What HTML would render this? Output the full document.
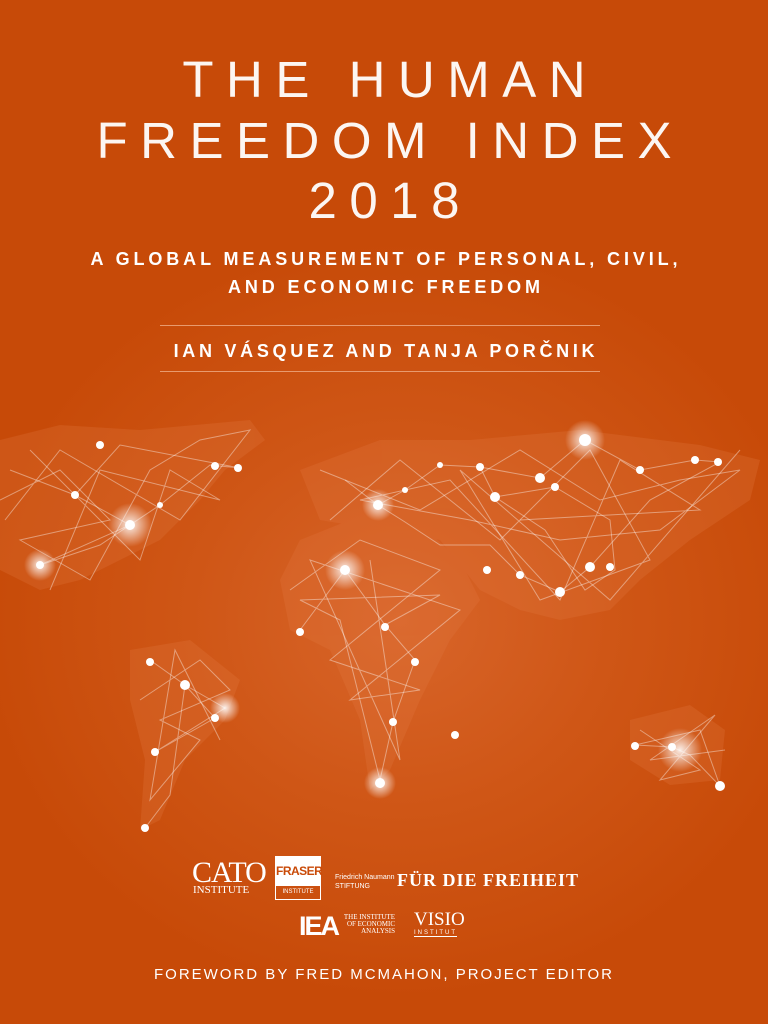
<!DOCTYPE html>
<html><head><meta charset="utf-8"><style>
body{margin:0;width:768px;height:1024px;overflow:hidden;background:#c94a08;font-family:"Liberation Sans",sans-serif;color:#fff;position:relative}
.bg{position:absolute;inset:0;background:radial-gradient(ellipse 420px 380px at 400px 620px,#d8652a 0%,#cf5616 50%,#c74a08 100%)}
.t{position:absolute;left:0;width:768px;text-align:center}
.h{font-size:51px;letter-spacing:12.5px;text-indent:12.5px;font-weight:300;line-height:60px;color:rgba(255,255,255,.95)}
.s{font-size:18px;font-weight:bold;letter-spacing:3.9px;text-indent:3.9px}
.line{position:absolute;left:160px;width:440px;height:1px;background:#e89a6e}
</style></head><body>
<div class="bg"></div>
<div class="t h" style="top:50px">THE HUMAN</div>
<div class="t h" style="top:111px">FREEDOM INDEX</div>
<div class="t h" style="top:171px">2018</div>
<div class="t s" style="top:249px">A GLOBAL MEASUREMENT OF PERSONAL, CIVIL,</div>
<div class="t s" style="top:277px">AND ECONOMIC FREEDOM</div>
<div class="line" style="top:325px"></div>
<div class="t s" style="top:341px;font-size:18px;letter-spacing:3.7px">IAN VÁSQUEZ AND TANJA PORČNIK</div>
<div class="line" style="top:371px"></div>
<svg style="position:absolute;left:0;top:0" width="768" height="1024">
<defs><radialGradient id="g"><stop offset="0" stop-color="#fff" stop-opacity=".9"/><stop offset="1" stop-color="#fff" stop-opacity="0"/></radialGradient></defs>
<g fill="#e47a43" opacity=".25">
<path d="M0 440 L60 425 140 430 250 420 265 440 225 470 200 500 160 540 120 560 80 580 40 590 0 570Z"/>
<path d="M130 650 L190 640 240 680 225 720 185 760 160 820 140 830 145 760 130 700Z"/>
<path d="M300 540 L350 520 420 525 460 560 480 600 450 640 420 700 390 770 370 790 360 720 330 650 290 630 280 580Z"/>
<path d="M300 470 L380 440 470 440 580 430 700 445 760 460 750 500 690 540 640 580 610 610 560 620 520 610 480 590 440 540 380 530 320 520Z"/>
<path d="M630 720 L690 705 725 730 720 780 670 785 630 760Z"/>
</g>
<g stroke="#fff" stroke-opacity=".4" stroke-width="1" fill="none">
<polyline points="10,470 75,495 130,525 40,565 100,545 160,505 210,465 240,468 120,445 75,495"/>
<polyline points="0,500 60,470 110,520 20,540 90,580 150,470 200,440 250,430 180,520 60,450 5,520"/>
<polyline points="30,450 140,560 170,470 220,500 100,470 50,590"/>
<polyline points="150,660 185,685 215,718 155,752 225,708 185,685 170,795 145,828"/>
<polyline points="140,700 200,660 230,690 160,720 200,740 150,800 175,650 220,740"/>
<polyline points="300,630 345,570 385,625 415,660 393,722 380,780 340,620 300,600 440,595 385,625"/>
<polyline points="290,590 360,540 440,570 330,660 420,690 350,700 460,610 310,560 400,760 370,560"/>
<polyline points="345,480 378,505 405,490 440,465 480,467 540,478 585,440 640,470 695,460 720,462 650,500 590,567 560,592 520,575 490,545 440,545 405,522 378,505"/>
<polyline points="480,467 495,497 555,487 610,520 615,570 585,590 545,530 495,497"/>
<polyline points="320,470 420,510 520,450 600,500 680,480 740,470 660,530 560,540 470,520 360,500 450,480 560,600 620,460 700,510 520,520"/>
<polyline points="330,520 400,460 500,540 590,450 650,560 540,600 460,470 610,600 740,450"/>
<polyline points="635,745 672,747 690,755 720,786 700,730 635,745"/>
<polyline points="640,730 700,770 660,780 715,715 650,760 725,750"/>
</g>
<g fill="#fff">
<circle cx="75" cy="495" r="4"/><circle cx="130" cy="525" r="5"/><circle cx="40" cy="565" r="4"/><circle cx="160" cy="505" r="3"/><circle cx="215" cy="466" r="4"/><circle cx="238" cy="468" r="4"/><circle cx="100" cy="445" r="4"/>
<circle cx="150" cy="662" r="4"/><circle cx="185" cy="685" r="5"/><circle cx="215" cy="718" r="4"/><circle cx="155" cy="752" r="4"/><circle cx="145" cy="828" r="4"/>
<circle cx="345" cy="570" r="5"/><circle cx="385" cy="627" r="4"/><circle cx="415" cy="662" r="4"/><circle cx="393" cy="722" r="4"/><circle cx="380" cy="783" r="5"/><circle cx="300" cy="632" r="4"/><circle cx="455" cy="735" r="4"/>
<circle cx="378" cy="505" r="5"/><circle cx="405" cy="490" r="3"/><circle cx="440" cy="465" r="3"/><circle cx="480" cy="467" r="4"/><circle cx="540" cy="478" r="5"/><circle cx="585" cy="440" r="6"/><circle cx="640" cy="470" r="4"/><circle cx="695" cy="460" r="4"/><circle cx="718" cy="462" r="4"/>
<circle cx="495" cy="497" r="5"/><circle cx="555" cy="487" r="4"/><circle cx="610" cy="567" r="4"/><circle cx="590" cy="567" r="5"/><circle cx="560" cy="592" r="5"/><circle cx="520" cy="575" r="4"/><circle cx="487" cy="570" r="4"/>
<circle cx="635" cy="746" r="4"/><circle cx="672" cy="747" r="4"/><circle cx="720" cy="786" r="5"/>
</g>
<g fill="url(#g)"><circle cx="130" cy="525" r="22"/><circle cx="345" cy="570" r="20"/><circle cx="585" cy="440" r="20"/><circle cx="378" cy="505" r="16"/><circle cx="680" cy="750" r="22"/><circle cx="40" cy="565" r="16"/><circle cx="380" cy="783" r="16"/><circle cx="225" cy="708" r="15"/></g>
</svg>
<div style="position:absolute;left:192px;top:860px;font-family:'Liberation Serif',serif;font-size:30px;line-height:26px;letter-spacing:-1px">CATO</div>
<div style="position:absolute;left:193px;top:884px;font-family:'Liberation Serif',serif;font-size:11px">INSTITUTE</div>
<div style="position:absolute;left:275px;top:856px;width:44px;height:42px;border:1px solid #fff">
<div style="background:#fff;color:#c94a08;font-size:12px;font-weight:bold;height:29px;line-height:29px;text-align:center;letter-spacing:-.5px">FRASER</div>
<div style="font-size:6px;text-align:center;line-height:12px">INSTITUTE</div></div>
<div style="position:absolute;left:335px;top:873px;font-size:7px;line-height:9px">Friedrich Naumann<br>STIFTUNG</div>
<div style="position:absolute;left:397px;top:870px;font-family:'Liberation Serif',serif;font-size:18px;font-weight:bold;letter-spacing:1px">FÜR DIE FREIHEIT</div>
<div style="position:absolute;left:299px;top:911px;font-size:27px;font-weight:bold;letter-spacing:-2px">IEA</div>
<div style="position:absolute;left:343px;top:914px;font-family:'Liberation Serif',serif;font-size:7px;line-height:7px;text-align:right;width:52px">THE INSTITUTE<br>OF ECONOMIC<br>ANALYSIS</div>
<div style="position:absolute;left:414px;top:910px;font-family:'Liberation Serif',serif;font-size:19px;line-height:20px">VISIO</div>
<div style="position:absolute;left:414px;top:930px;font-size:6px;letter-spacing:2px;border-bottom:1px solid #fff">INSTITUT</div>
<div class="t" style="top:966px;font-size:15px;letter-spacing:2px">FOREWORD BY FRED MCMAHON, PROJECT EDITOR</div>
</body></html>
